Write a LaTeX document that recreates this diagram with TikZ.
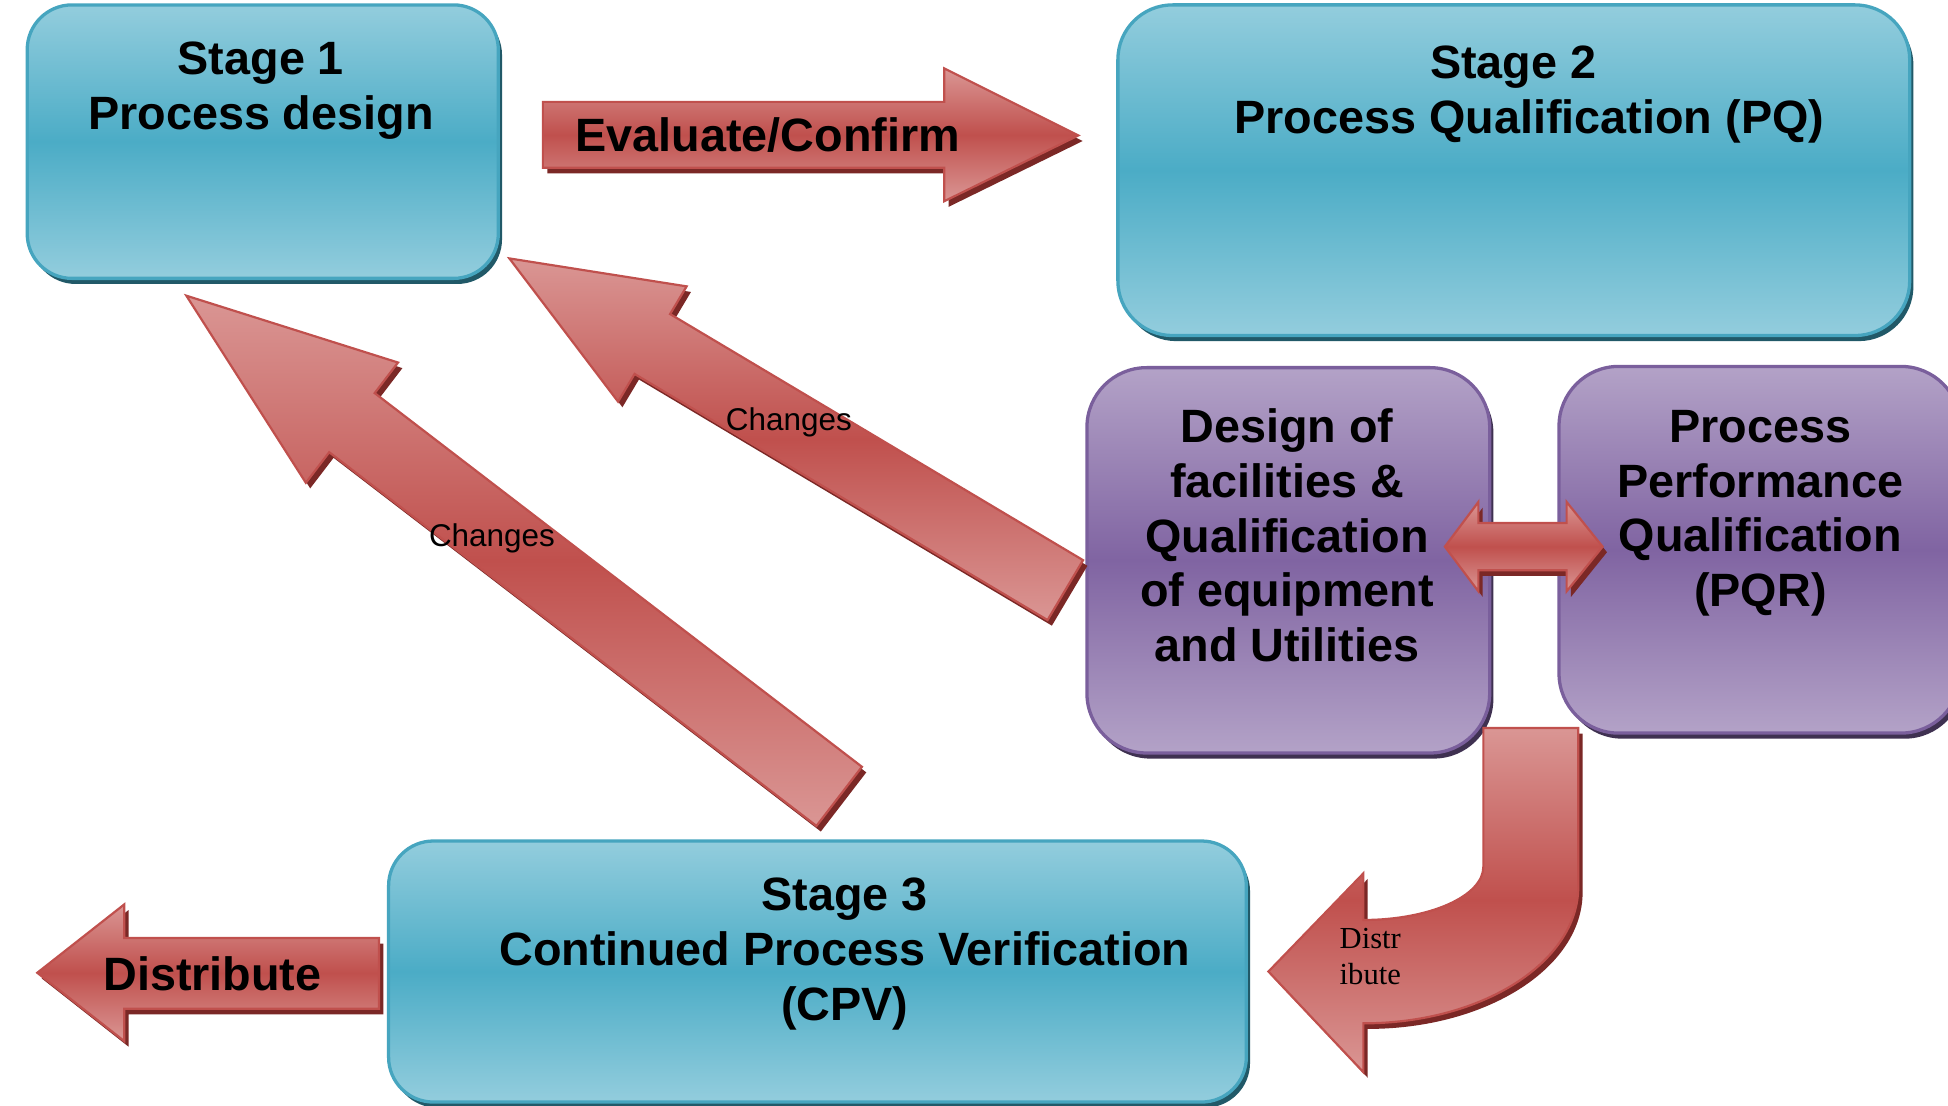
\documentclass[tikz,border=0pt]{standalone}
\usepackage{fontspec}
\setmainfont{Liberation Sans}
\newfontfamily\serifdistr{Liberation Serif}
\usetikzlibrary{shadows}
\definecolor{bluelight}{HTML}{93CDDD}
\definecolor{bluemid}{HTML}{4BACC6}
\definecolor{blueline}{HTML}{46A5BF}
\definecolor{blueshadow}{HTML}{215968}
\definecolor{purplelight}{HTML}{B3A2C7}
\definecolor{purplemid}{HTML}{8064A2}
\definecolor{purpleline}{HTML}{7A5F9C}
\definecolor{purpleshadow}{HTML}{3F3151}
\definecolor{redlight}{HTML}{DA9694}
\definecolor{redmid}{HTML}{C0504D}
\definecolor{redline}{HTML}{C0504D}
\definecolor{redshadow}{HTML}{7B2826}
\tikzset{
  bluebox/.style={draw=blueline, line width=0.75pt, top color=bluelight, bottom color=bluelight, middle color=bluemid,
    general shadow={fill=blueshadow, shadow xshift=0.03cm, shadow yshift=-0.045cm}, inner sep=0pt},
  purplebox/.style={draw=purpleline, line width=0.75pt, top color=purplelight, bottom color=purplelight, middle color=purplemid,
    general shadow={fill=purpleshadow, shadow xshift=0.03cm, shadow yshift=-0.045cm}, inner sep=0pt},
  redarrow/.style={draw=redline, line width=0.5pt, top color=redlight, bottom color=redlight, middle color=redmid,
    general shadow={fill=redshadow, shadow xshift=0.035cm, shadow yshift=-0.045cm}},
  boxtext/.style={font=\fontsize{10.7}{12.5}\selectfont\bfseries, align=center, inner sep=0pt},
  changestext/.style={font=\fontsize{7.2}{8.6}\selectfont, inner sep=0pt},
  distrtext/.style={font=\serifdistr\fontsize{7}{8.1}\selectfont, align=left, inner sep=0pt}
}
\begin{document}
\begin{tikzpicture}[x=0.01cm, y=-0.01cm]
\useasboundingbox (0,0) rectangle (1568,890);
\clip (0,0) rectangle (1568,890);
\fill[white] (0,0) rectangle (1568,890);

% boxes
\node[bluebox, rounded corners=0.36cm, minimum width=3.79cm, minimum height=2.20cm] (s1) at (211.5,114) {};
\node[bluebox, rounded corners=0.44cm, minimum width=6.37cm, minimum height=2.66cm] (s2) at (1218.5,137) {};
\node[purplebox, rounded corners=0.48cm, minimum width=3.24cm, minimum height=3.10cm] (dq) at (1037,451) {};
\node[purplebox, rounded corners=0.48cm, minimum width=3.23cm, minimum height=2.95cm] (pqr) at (1416.5,442.5) {};
\node[bluebox, rounded corners=0.36cm, minimum width=6.90cm, minimum height=2.10cm] (s3) at (658,782) {};

% box texts
\node[boxtext] (s1t) at (210,73) {Stage 1\\Process design};
\node[boxtext] (s2t) at (1218,76) {Stage 2\\\hspace*{0.26cm}Process Qualification (PQ)};
\node[boxtext] (dqt) at (1036,431) {Design of\\facilities \&\\Qualification\\of equipment\\and Utilities};
\node[boxtext] (pqrt) at (1417,413) {Process\\Performance\\Qualification\\(PQR)};
\node[boxtext] (s3t) at (680,768) {Stage 3\\Continued Process Verification\\(CPV)};

% Evaluate/Confirm arrow
\draw[redarrow] (437,82) -- (760,82) -- (760,55) -- (868,109) -- (760,162) -- (760,135) -- (437,135) -- cycle;
\node[boxtext] (evt) at (618,109) {Evaluate/Confirm};

% Distribute arrow
\draw[redarrow] (305,755) -- (100,755) -- (100,728) -- (30,783) -- (100,838) -- (100,812) -- (305,812) -- cycle;
\node[boxtext] (dst) at (171,784) {Distribute};

% Changes arrows
\draw[redarrow] (410,208) -- (552.7,230.5) -- (539.4,252.8) -- (871.8,450.9) -- (843.2,499.1) -- (510.8,301) -- (497.5,323.3) -- cycle;
\draw[redarrow] (150,238) -- (320.4,291.8) -- (301.6,316.4) -- (693.8,617.2) -- (657.2,664.8) -- (265,364) -- (246.2,388.6) -- cycle;
\node[changestext] (c1) at (635,340) {Changes};
\node[changestext] (c2) at (396,433) {Changes};

% double arrow
\draw[redarrow] (1163,440) -- (1190,404) -- (1190,421) -- (1261,421) -- (1261,404) -- (1290,440) -- (1261,476) -- (1261,459) -- (1190,459) -- (1190,476) -- cycle;

% curved Distribute arrow
\draw[redarrow] (1194,586) -- (1194,697.6) .. controls (1194,721.3) and (1150.8,740.5) .. (1097.4,740.5)
  -- (1097.4,703) -- (1021,782) -- (1097.4,863) -- (1097.4,823.7)
  .. controls (1193,823.7) and (1270.4,774.5) .. (1270.4,713.7) -- (1270.4,586) -- cycle;
\node[distrtext] (dit) at (1103,770) {Distr\\ibute};
\end{tikzpicture}
\end{document}
